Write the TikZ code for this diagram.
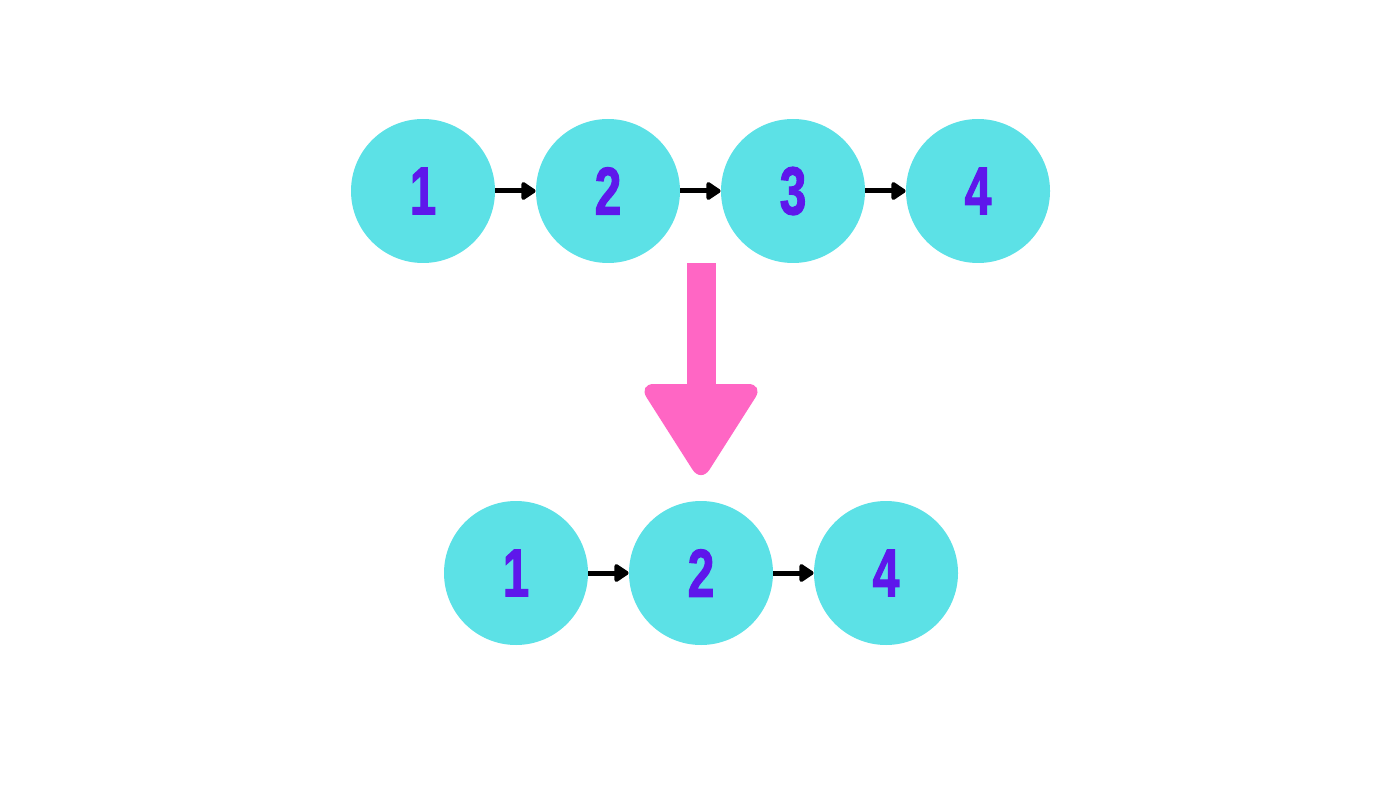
\documentclass[tikz,border=0pt]{standalone}
\usepackage{fontspec}
\usepackage{tikz}
\usetikzlibrary{arrows.meta}

\newfontfamily\digitfont[FakeStretch=0.7, BoldFeatures={FakeBold=1.5}]{Liberation Sans}

\definecolor{listcyan}{HTML}{5CE1E6}
\definecolor{listdigit}{HTML}{5E17EB}
\definecolor{listpink}{HTML}{FF66C4}

\tikzset{
  listnode/.style={circle, fill=listcyan, minimum size=72pt, inner sep=0pt,
    font=\digitfont\bfseries\fontsize{34}{34}\selectfont, text=listdigit},
  link/.style={line width=2.5pt, -{Triangle[width=10pt, length=8pt, round]}},
  pinkarrow/.style={fill=listpink}
}

\begin{document}
\begin{tikzpicture}[x=0.5pt, y=0.5pt]
        \useasboundingbox (0,0) rectangle (1400,788);

        % Draw the list before removal
        \node[listnode] (t1) at (423,597) {1};
        \node[listnode] (t2) at (608,597) {2};
        \node[listnode] (t3) at (793,597) {3};
        \node[listnode] (t4) at (978,597) {4};

        \draw[link] (t1) -- (t2);
        \draw[link] (t2) -- (t3);
        \draw[link] (t3) -- (t4);

        % Draw the big arrow in the middle
        \fill[pinkarrow] (687,525) rectangle (716,400);
        \fill[pinkarrow, rounded corners=8pt] (638,404) -- (764,404) -- (701,305) -- cycle;

        % Draw the list after removal
        \node[listnode] (b1) at (516,215) {1};
        \node[listnode] (b2) at (701,215) {2};
        \node[listnode] (b4) at (886,215) {4};

        \draw[link] (b1) -- (b2);
        \draw[link] (b2) -- (b4);

    \end{tikzpicture}
\end{document}
